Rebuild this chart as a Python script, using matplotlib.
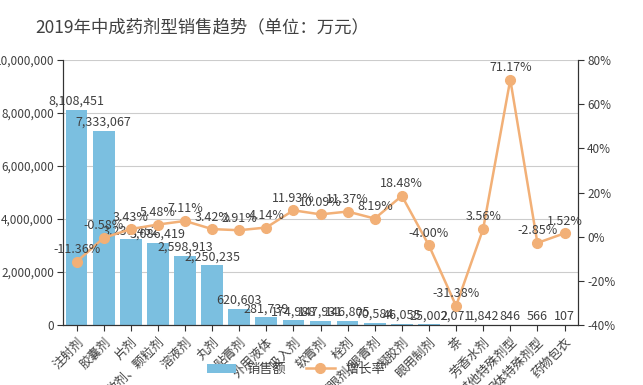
import matplotlib.pyplot as plt
from matplotlib.ticker import FuncFormatter, MultipleLocator

plt.rcParams['font.family'] = ['Noto Sans CJK SC', 'DejaVu Sans']

categories = ['注射剂', '胶囊剂', '片剂', '散剂、颗粒剂', '溶液剂', '丸剂', '贴膏剂',
              '外用液体', '吸入剂', '软膏剂', '栓剂', '滴眼剂/眼膏剂', '凝胶剂',
              '眼用制剂', '茶', '芳香水剂', '其他特殊剂型', '固体特殊剂型', '药物包衣']
sales = [8108451, 7333067, 3230452, 3086419, 2598913, 2250235, 620603,
         281739, 174988, 147931, 146805, 70584, 46055, 25002, 2071, 1842,
         846, 566, 107]
growth = [-11.36, -0.58, 3.43, 5.48, 7.11, 3.42, 2.91, 4.14, 11.93, 10.09,
          11.37, 8.19, 18.48, -4.00, -31.38, 3.56, 71.17, -2.85, 1.52]

bar_color = '#7BBFE0'
line_color = '#F2B077'
text_color = '#404040'

fig = plt.figure(figsize=(6.43, 3.85), dpi=100)
ax = fig.add_axes([0.098, 0.156, 0.801, 0.688])
ax2 = ax.twinx()

x = range(len(categories))
bars = ax.bar(x, sales, width=0.8, color=bar_color, label='销售额', zorder=2)
ax.set_ylim(0, 10000000)
ax.set_xlim(-0.5, len(categories) - 0.5)
ax.yaxis.set_major_locator(MultipleLocator(2000000))
ax.yaxis.set_major_formatter(FuncFormatter(lambda v, p: f'{int(v):,}'))
ax.grid(axis='y', color='#cccccc', linewidth=0.8, zorder=0)
ax.set_axisbelow(True)
for b, v in zip(bars, sales):
    ax.text(b.get_x() + b.get_width() / 2, v + 80000, f'{v:,}',
            ha='center', va='bottom', fontsize=9, color=text_color, zorder=5)

ax.set_xticks(list(x))
ax.set_xticklabels(categories, rotation=45, ha='right', rotation_mode='anchor',
                   fontsize=9, color=text_color)

ax2.plot(list(x), growth, color=line_color, linewidth=1.8, marker='o',
         markersize=7, label='增长率', zorder=4)
ax2.set_ylim(-40, 80)
ax2.yaxis.set_major_locator(MultipleLocator(20))
ax2.yaxis.set_major_formatter(FuncFormatter(lambda v, p: f'{int(v)}%'))
for i, g in enumerate(growth):
    ax2.text(i, g + 2.5, f'{g:.2f}%', ha='center', va='bottom',
             fontsize=9, color=text_color, zorder=6)

for a in (ax, ax2):
    a.spines['top'].set_visible(False)
    for s in ('left', 'right', 'bottom'):
        a.spines[s].set_color('#333333')
    a.tick_params(axis='y', labelsize=8.5, labelcolor=text_color, length=4,
                  pad=2.5, color='#333333')
    a.tick_params(axis='x', length=4, color='#333333')

fig.text(0.055, 0.93, '2019年中成药剂型销售趋势（单位：万元）', fontsize=12.5,
         color=text_color, ha='left', va='center')

h1, l1 = ax.get_legend_handles_labels()
h2, l2 = ax2.get_legend_handles_labels()
fig.legend(h1 + h2, l1 + l2, loc='center', bbox_to_anchor=(0.46, 0.04),
           ncol=2, frameon=False, fontsize=9.5, handlelength=2.2,
           columnspacing=1.5, labelcolor=text_color)

fig.savefig('out.png', dpi=100)
